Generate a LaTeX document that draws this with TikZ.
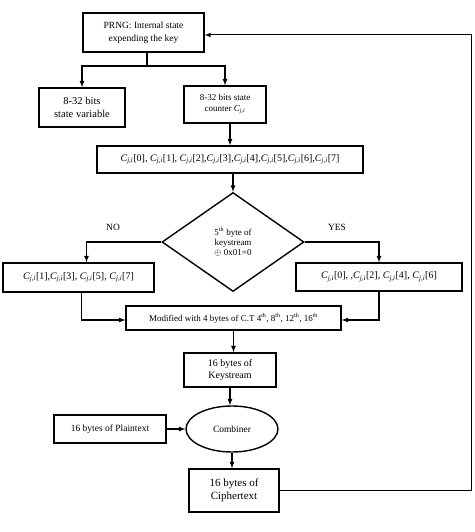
\documentclass[tikz,border=0pt]{standalone}
\usepackage{fontspec}
\setmainfont{Liberation Serif}
\usetikzlibrary{shapes.geometric}
\tikzset{
    blk/.style={draw,line width=1.4pt,align=center,inner sep=1pt},
    flow/.style={-latex,line width=1.2pt},
}
\newcommand{\cji}{\textit{C}\textsubscript{\textit{j,i}}}
\newcommand{\thx}{\textsuperscript{th}}
\begin{document}
\begin{tikzpicture}[x=1pt,y=-1pt]
            \useasboundingbox (0,0) rectangle (474,532);

            \node (prng) at (143.5,32.5)[blk,minimum width=121pt,minimum height=39pt,font=\fontsize{9.5}{13}\selectfont]{PRNG: Internal state\\expending the key};
            \node (svar) at (82,107.5)[blk,minimum width=86pt,minimum height=39pt,font=\fontsize{10.5}{13}\selectfont]{8-32 bits\\state variable};
            \node (ctr) at (225,104.5)[blk,minimum width=82pt,minimum height=37pt,font=\fontsize{9}{11}\selectfont]{8-32 bits state\\counter \cji};
            \node (cjall) at (230,159.5)[blk,minimum width=266pt,minimum height=27pt,font=\fontsize{10}{11}\selectfont]{\cji[0], \cji[1], \cji[2],\cji[3],\cji[4],\cji[5],\cji[6],\cji[7]};

            \node (dec) at (233,242)[draw,diamond,line width=1.4pt,aspect=1.43,minimum width=142pt,minimum height=99pt,inner sep=0pt,align=center,font=\fontsize{9}{10}\selectfont]{5\thx{} byte of\\keystream\\$\oplus$ 0x01=0};
            \node at (113,227)[font=\fontsize{9.5}{11}\selectfont]{NO};
            \node at (337,227)[font=\fontsize{9.5}{11}\selectfont]{YES};

            \node (odd) at (78.5,277.5)[blk,minimum width=151pt,minimum height=29pt,font=\fontsize{10}{11}\selectfont]{\cji[1],\cji[3], \cji[5], \cji[7]};
            \node (even) at (379,277)[blk,minimum width=166pt,minimum height=28pt,font=\fontsize{10}{11}\selectfont]{\cji[0], ,\cji[2], \cji[4], \cji[6]};
            \node (mod) at (233.5,318)[blk,minimum width=215pt,minimum height=24pt,font=\fontsize{9}{11}\selectfont]{Modified with 4 bytes of C.T 4\thx, 8\thx, 12\thx, 16\thx};

            \node (ks) at (230,370)[blk,minimum width=92pt,minimum height=34pt,font=\fontsize{10}{11.5}\selectfont]{16 bytes of\\Keystream};
            \node (comb) at (232,429)[draw,ellipse,line width=1.4pt,minimum width=92pt,minimum height=46pt,inner sep=0pt,font=\fontsize{9.5}{11}\selectfont]{Combiner};
            \node (pt) at (110,429)[blk,minimum width=112pt,minimum height=28pt,font=\fontsize{9.5}{11}\selectfont]{16 bytes of Plaintext};
            \node (ct) at (234,490.5)[blk,minimum width=90pt,minimum height=43pt,font=\fontsize{11}{12.5}\selectfont]{16 bytes of\\Ciphertext};

            \coordinate (split) at (147,66);
            \coordinate (fb) at (471,35);

            \draw[line width=1.2pt] (prng.south -| split) -- (split);
            \draw[flow] (split) -| (svar.north);
            \draw[flow] (split) -| (ctr.north);
            \draw[flow] (ctr.south -| cjall.north) -- (cjall.north);
            \draw[flow] (cjall.south -| dec.north) -- (dec.north);
            \draw[flow] (dec.west) -| ([xshift=8pt]odd.north);
            \draw[flow] (dec.east) -| (even.north);
            \draw[flow] ([xshift=3pt]odd.south) |- ([yshift=-2pt]mod.west);
            \draw[flow] (even.south) |- ([yshift=-2pt]mod.east);
            \draw[flow] (mod.south) -- (mod.south |- ks.north);
            \draw[flow] (ks.south) -- (ks.south |- comb.north);
            \draw[flow] (pt.east) -- (comb.west);
            \draw[flow] (comb.south) -- (comb.south |- ct.north);
            \draw[-latex,line width=1pt] (ct.east) -| (fb) -- (fb -| prng.east);
        \end{tikzpicture}
\end{document}
